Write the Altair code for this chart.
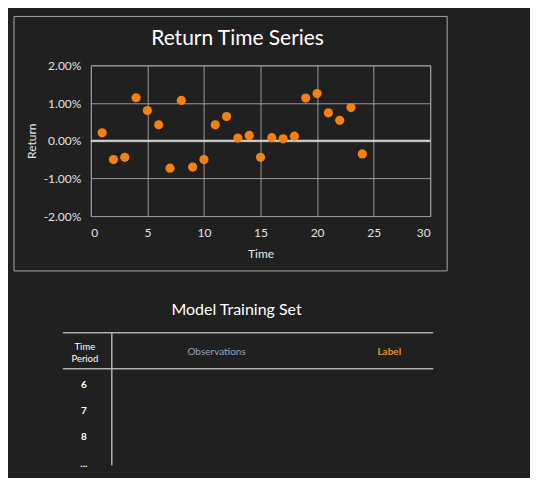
import altair as alt
import pandas as pd

# ---- data ----
time_steps = list(range(1, 25))
returns = [0.0021, -0.0050, -0.0044, 0.0114, 0.0080, 0.0042, -0.0073, 0.0107,
           -0.0070, -0.0050, 0.0042, 0.0064, 0.0007, 0.0014, -0.0044, 0.0008,
           0.0005, 0.0012, 0.0113, 0.0125, 0.0074, 0.0054, 0.0088, -0.0035]
row_labels = ["6", "7", "8", "..."]
header_labels = ["Observations", "Label"]
y_ticks = [-0.02, -0.01, 0, 0.01, 0.02]
x_ticks = [0, 5, 10, 15, 20, 25, 30]

BG = "#202020"
FONT = "Lato"
ORANGE = "#F5820F"

df = pd.DataFrame({"Time": time_steps, "Return": returns})
rows = pd.DataFrame({"label": row_labels, "idx": list(range(len(row_labels)))})

W, H = 340, 151

y_scale = alt.Scale(domain=[-0.02, 0.02], nice=False)
y_axis = alt.Axis(values=y_ticks, format=".2%", tickCount=5,
                  labelExpr="replace(datum.label, '\u2212', '-')",
                  labelOverlap=False,
                  title="Return", titlePadding=5, labelPadding=10)

points = alt.Chart(df).mark_circle(size=85, color=ORANGE, opacity=1).encode(
    x=alt.X("Time:Q", scale=alt.Scale(domain=[0, 30], nice=False),
            axis=alt.Axis(values=x_ticks, title="Time",
                          titlePadding=11, labelPadding=11)),
    y=alt.Y("Return:Q", scale=y_scale, axis=y_axis),
)

zero = alt.Chart(pd.DataFrame({"Return": [0]})).mark_rule(color="#d0d0d0", strokeWidth=2).encode(
    y=alt.Y("Return:Q", scale=y_scale, axis=y_axis)
)

one = pd.DataFrame({"a": [0]})

box = alt.Chart(one).mark_rect(fill=None, stroke="#a8a8a8", strokeWidth=1, clip=False).encode(
    x=alt.value(-77), x2=alt.value(357), y=alt.value(-49), y2=alt.value(206)
)

title = alt.Chart(pd.DataFrame({"t": ["Return Time Series"]})).mark_text(
    font=FONT, fontSize=21, color="#ffffff", baseline="middle", align="center"
).encode(text="t:N", x=alt.value(147), y=alt.value(-26))

# ---- table ----
sub_title = alt.Chart(pd.DataFrame({"t": ["Model Training Set"]})).mark_text(
    font=FONT, fontSize=16, color="#ffffff", baseline="middle", align="center"
).encode(text="t:N", x=alt.value(146), y=alt.value(245))

hlines = alt.Chart(pd.DataFrame({"k": [0, 1]})).transform_calculate(
    py="datum.k == 0 ? 268 : 304"
).mark_rule(color="#b0b0b0", strokeWidth=1.5, clip=False).encode(
    x=alt.value(-28), x2=alt.value(343), y=alt.Y("py:Q", scale=None)
)

vline = alt.Chart(one).mark_rule(color="#b0b0b0", strokeWidth=1.5, clip=False).encode(
    x=alt.value(21), y=alt.value(268), y2=alt.value(401)
)

time_hdr = alt.Chart(pd.DataFrame({"t": ["Time", "Period"], "k": [0, 1]})).transform_calculate(
    py="282 + datum.k * 12"
).mark_text(font=FONT, fontSize=9.5, color="#ffffff", baseline="middle", align="center").encode(
    text="t:N", x=alt.value(-6), y=alt.Y("py:Q", scale=None)
)

hdr = pd.DataFrame({"t": header_labels, "k": [0, 1]})
obs_hdr = alt.Chart(hdr).transform_filter("datum.k == 0").mark_text(
    font=FONT, fontSize=10, color="#8fa6c0", baseline="middle", align="center"
).encode(text="t:N", x=alt.value(126), y=alt.value(287))
lab_hdr = alt.Chart(hdr).transform_filter("datum.k == 1").mark_text(
    font=FONT, fontSize=10, color="#e0962a", fontWeight="bold", baseline="middle", align="center"
).encode(text="t:N", x=alt.value(299), y=alt.value(287))

row_txt = alt.Chart(rows).transform_calculate(
    py="320 + datum.idx * 26 + (datum.idx == 3 ? 1 : 0)"
).mark_text(font=FONT, fontSize=10, color="#ffffff", fontWeight="bold",
            baseline="middle", align="center").encode(
    text="label:N", x=alt.value(-7), y=alt.Y("py:Q", scale=None)
)

chart = alt.layer(
    box, title, zero, points, sub_title, hlines, vline, time_hdr, obs_hdr, lab_hdr, row_txt
).properties(
    width=W, height=H, background=BG,
    padding={"left": 5, "top": 7, "right": 82, "bottom": 9},
).configure_view(
    stroke="#9a9a9a", strokeWidth=1
).configure_axis(
    grid=True, gridColor="#9a9a9a", gridWidth=1, domain=False, ticks=False,
    labelColor="#e0e0e0", labelFont=FONT, labelFontSize=12,
    titleColor="#e6e6e6", titleFont=FONT, titleFontSize=12, titleFontWeight="normal",
)

chart.save("out.html", embed_options={"renderer": "svg", "actions": False})
